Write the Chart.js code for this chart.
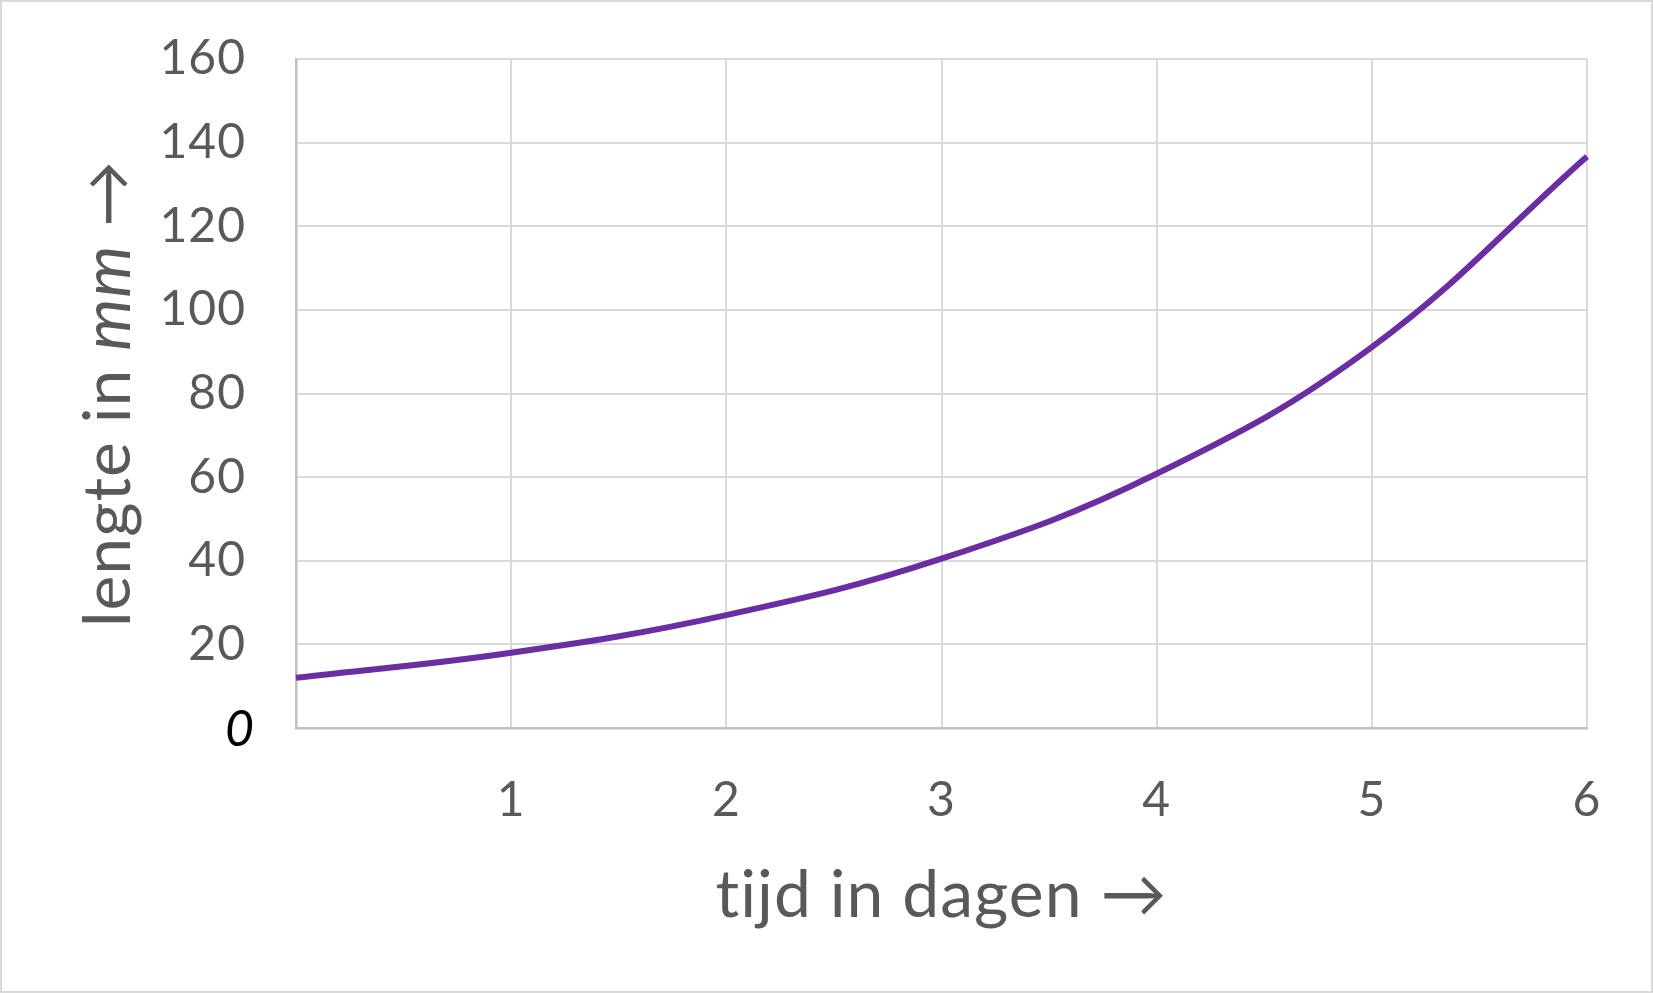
<!DOCTYPE html>
<html>
<head>
<meta charset="utf-8">
<script src="https://cdn.jsdelivr.net/npm/chart.js@4"></script>
<style>
  html, body { margin: 0; padding: 0; background: #ffffff; }
  #wrap { position: relative; width: 1653px; height: 993px; box-sizing: border-box; border: 2px solid #d9d9d9; background: #fff; }
  canvas { display: block; }
</style>
</head>
<body>
<div id="wrap"><canvas id="c"></canvas></div>
<script>
// Data
const days = [0, 1, 2, 3, 4, 5, 6];
const lengthMm = [12, 18, 27, 40.5, 60.8, 91.1, 136.7];
const yTicks = [0, 20, 40, 60, 80, 100, 120, 140, 160];
const xTicks = [1, 2, 3, 4, 5, 6];
const xTitle = 'tijd in dagen \u2192';
const yTitleParts = [['lengte in ', 'normal'], ['mm', 'italic'], [' \u2192', 'normal']];
const zeroLabel = '0';

const FONT = 'Lato, "Open Sans", "Noto Sans", sans-serif';
const GREY = '#595959';

const points = days.map((d, i) => ({ x: d, y: lengthMm[i] }));

const spacingPlugin = {
  id: 'spacing',
  beforeDraw(chart) {
    chart.ctx.letterSpacing = '1px';
  }
};

const extraText = {
  id: 'extraText',
  afterDraw(chart) {
    const ctx = chart.ctx;
    const area = chart.chartArea;
    const ys = chart.scales.y;
    // y-axis title with italic unit
    ctx.save();
    ctx.fillStyle = GREY;
    ctx.textBaseline = 'middle';
    ctx.textAlign = 'left';
    const size = 66;
    let total = 0;
    const widths = yTitleParts.map(([t, st]) => {
      ctx.font = st + ' ' + size + 'px ' + FONT;
      const w = ctx.measureText(t).width;
      total += w;
      return w;
    });
    ctx.translate(107, (area.top + area.bottom) / 2);
    ctx.rotate(-Math.PI / 2);
    let x = -total / 2;
    yTitleParts.forEach(([t, st], i) => {
      ctx.font = st + ' ' + size + 'px ' + FONT;
      ctx.fillText(t, x, 0);
      x += widths[i];
    });
    ctx.restore();
    // italic zero at the origin
    ctx.save();
    ctx.fillStyle = '#000000';
    ctx.font = 'italic 50px ' + FONT;
    ctx.textAlign = 'center';
    ctx.textBaseline = 'middle';
    ctx.fillText(zeroLabel, area.left - 56, ys.getPixelForValue(0) + 2);
    ctx.restore();
  }
};

new Chart(document.getElementById('c'), {
  type: 'line',
  data: {
    datasets: [{
      data: points,
      borderColor: '#6a2da2',
      borderWidth: 6,
      pointRadius: 0,
      tension: 0.4,
      fill: false,
      clip: false
    }]
  },
  options: {
    responsive: true,
    maintainAspectRatio: false,
    animation: false,
    layout: { padding: { left: 0, right: 64, top: 57, bottom: 0 } },
    plugins: { legend: { display: false }, tooltip: { enabled: false } },
    scales: {
      x: {
        type: 'linear',
        min: 0, max: 6,
        afterFit: s => { s.height = 263; },
        afterBuildTicks: s => { s.ticks = [0].concat(xTicks).map(v => ({ value: v })); },
        ticks: {
          stepSize: 1,
          padding: 44,
          color: GREY,
          font: { family: FONT, size: 48 },
          callback: v => (xTicks.includes(v) ? String(v) : '')
        },
        grid: { color: '#d9d9d9', lineWidth: 2, drawTicks: false },
        border: { color: '#bfbfbf', width: 2.5 },
        title: {
          display: true,
          text: xTitle,
          color: GREY,
          font: { family: FONT, size: 66 },
          padding: { top: 0, bottom: 56 }
        }
      },
      y: {
        min: 0, max: 160,
        afterFit: s => { s.width = 294; },
        afterBuildTicks: s => { s.ticks = yTicks.map(v => ({ value: v })); },
        ticks: {
          padding: 0,
          color: GREY,
          font: { family: FONT, size: 48 },
          callback: v => (v === 0 ? '' : String(v))
        },
        grid: { color: '#d9d9d9', lineWidth: 2, drawTicks: true, tickLength: 50, tickColor: 'rgba(0,0,0,0)' },
        border: { color: '#bfbfbf', width: 2.5 },
        title: { display: false }
      }
    }
  },
  plugins: [spacingPlugin, extraText]
});
</script>
</body>
</html>
